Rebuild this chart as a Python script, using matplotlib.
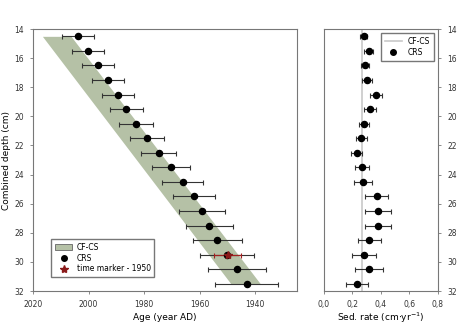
import matplotlib.pyplot as plt
from matplotlib.patches import Patch
from matplotlib.lines import Line2D

# sample depths (cm)
depth = [14.5, 15.5, 16.5, 17.5, 18.5, 19.5, 20.5, 21.5, 22.5,
         23.5, 24.5, 25.5, 26.5, 27.5, 28.5, 29.5, 30.5, 31.5]

# CRS model ages and uncertainties (year AD)
crs_age = [2003.8, 2000.1, 1996.5, 1992.9, 1989.3, 1986.4, 1983.0, 1979.0, 1974.8,
           1970.2, 1966.2, 1962.1, 1959.2, 1956.5, 1953.7, 1950.3, 1946.5, 1943.1]
crs_age_err = [5.6, 5.7, 5.7, 5.7, 5.8, 5.9, 6.1, 6.2, 6.4,
               6.8, 7.3, 7.7, 8.2, 8.4, 8.9, 9.7, 10.5, 11.3]

# CRS sedimentation rates (cm/yr)
crs_rate = [0.278, 0.314, 0.290, 0.302, 0.365, 0.323, 0.278, 0.262, 0.229,
            0.267, 0.276, 0.370, 0.379, 0.381, 0.318, 0.283, 0.316, 0.232]
crs_rate_err = [0.027, 0.032, 0.027, 0.037, 0.044, 0.042, 0.035, 0.037, 0.037,
                0.048, 0.063, 0.082, 0.088, 0.091, 0.082, 0.084, 0.098, 0.078]

# CF-CS model band (ends of the band)
cfcs_depth = [14.5, 31.5]
cfcs_young = [2016.6, 1948.8]
cfcs_old = [2006.3, 1938.2]
cfcs_rate = 0.27

# 1950 time marker
marker_depth = 29.5
marker_age = 1950
marker_err = 5.0

band_col = "#b5c1a6"
spine_col = "#777777"
fs = 5.5

fig = plt.figure(figsize=(4.74, 3.25), dpi=100)
ax1 = fig.add_axes([0.0696, 0.1046, 0.557, 0.806])
ax2 = fig.add_axes([0.6835, 0.1046, 0.2405, 0.806])

# left panel: age-depth
ax1.fill_betweenx(cfcs_depth, cfcs_young, cfcs_old, color=band_col, lw=0)
ax1.errorbar(crs_age, depth, xerr=crs_age_err, fmt="o", color="black",
             ecolor="#333333", elinewidth=0.8, capsize=1.8, capthick=0.8, ms=4.4)
ax1.errorbar([marker_age], [marker_depth], xerr=[marker_err], fmt="*", color="#8b1a1a",
             ecolor="#a02020", elinewidth=0.9, capsize=1.8, capthick=0.8, ms=6)
ax1.set_xlim(2020, 1925)
ax1.set_ylim(32, 14)
ax1.set_xticks([2020, 2000, 1980, 1960, 1940])
ax1.set_yticks(range(14, 33, 2))
ax1.set_xlabel("Age (year AD)", fontsize=6.5, labelpad=2.5)
ax1.set_ylabel("Combined depth (cm)", fontsize=6.5, labelpad=2)

h1 = [Patch(facecolor=band_col, edgecolor="#666666", lw=0.6),
      Line2D([], [], ls="none", marker="o", color="black", ms=4),
      Line2D([], [], ls="none", marker="*", color="#8b1a1a", ms=6)]
ax1.legend(h1, ["CF-CS", "CRS", "time marker - 1950"], loc="lower left",
           bbox_to_anchor=(0.055, 0.038), fontsize=fs, frameon=True, fancybox=False,
           edgecolor="#555555", handlelength=2.2, handletextpad=0.6,
           borderpad=0.5, labelspacing=0.25)

# right panel: sedimentation rate
ax2.axvline(cfcs_rate, color="#c8c8c8", lw=1.2, zorder=1)
ax2.errorbar(crs_rate, depth, xerr=crs_rate_err, fmt="o", color="black",
             ecolor="#333333", elinewidth=0.8, capsize=1.8, capthick=0.8, ms=4.4, zorder=3)
ax2.set_xlim(0, 0.8)
ax2.set_ylim(32, 14)
ax2.set_xticks([0.0, 0.2, 0.4, 0.6, 0.8])
ax2.set_xticklabels(["0,0", "0,2", "0,4", "0,6", "0,8"])
ax2.set_yticks(range(14, 33, 2))
ax2.yaxis.tick_right()
ax2.set_xlabel("Sed. rate (cm$\\cdot$yr$^{-1}$)", fontsize=6.5, labelpad=1)

h2 = [Line2D([], [], color="#c8c8c8", lw=1.2),
      Line2D([], [], ls="none", marker="o", color="black", ms=4)]
ax2.legend(h2, ["CF-CS", "CRS"], loc="upper right", fontsize=fs, frameon=True,
           fancybox=False, edgecolor="#555555", handlelength=2.2,
           borderpad=0.5, labelspacing=0.3)

for ax in (ax1, ax2):
    ax.tick_params(labelsize=fs, length=2.5, width=0.6, color=spine_col,
                   labelcolor="#333333", pad=4)
    for s in ax.spines.values():
        s.set_color(spine_col)
        s.set_linewidth(0.8)

fig.savefig("out.png", dpi=100)
